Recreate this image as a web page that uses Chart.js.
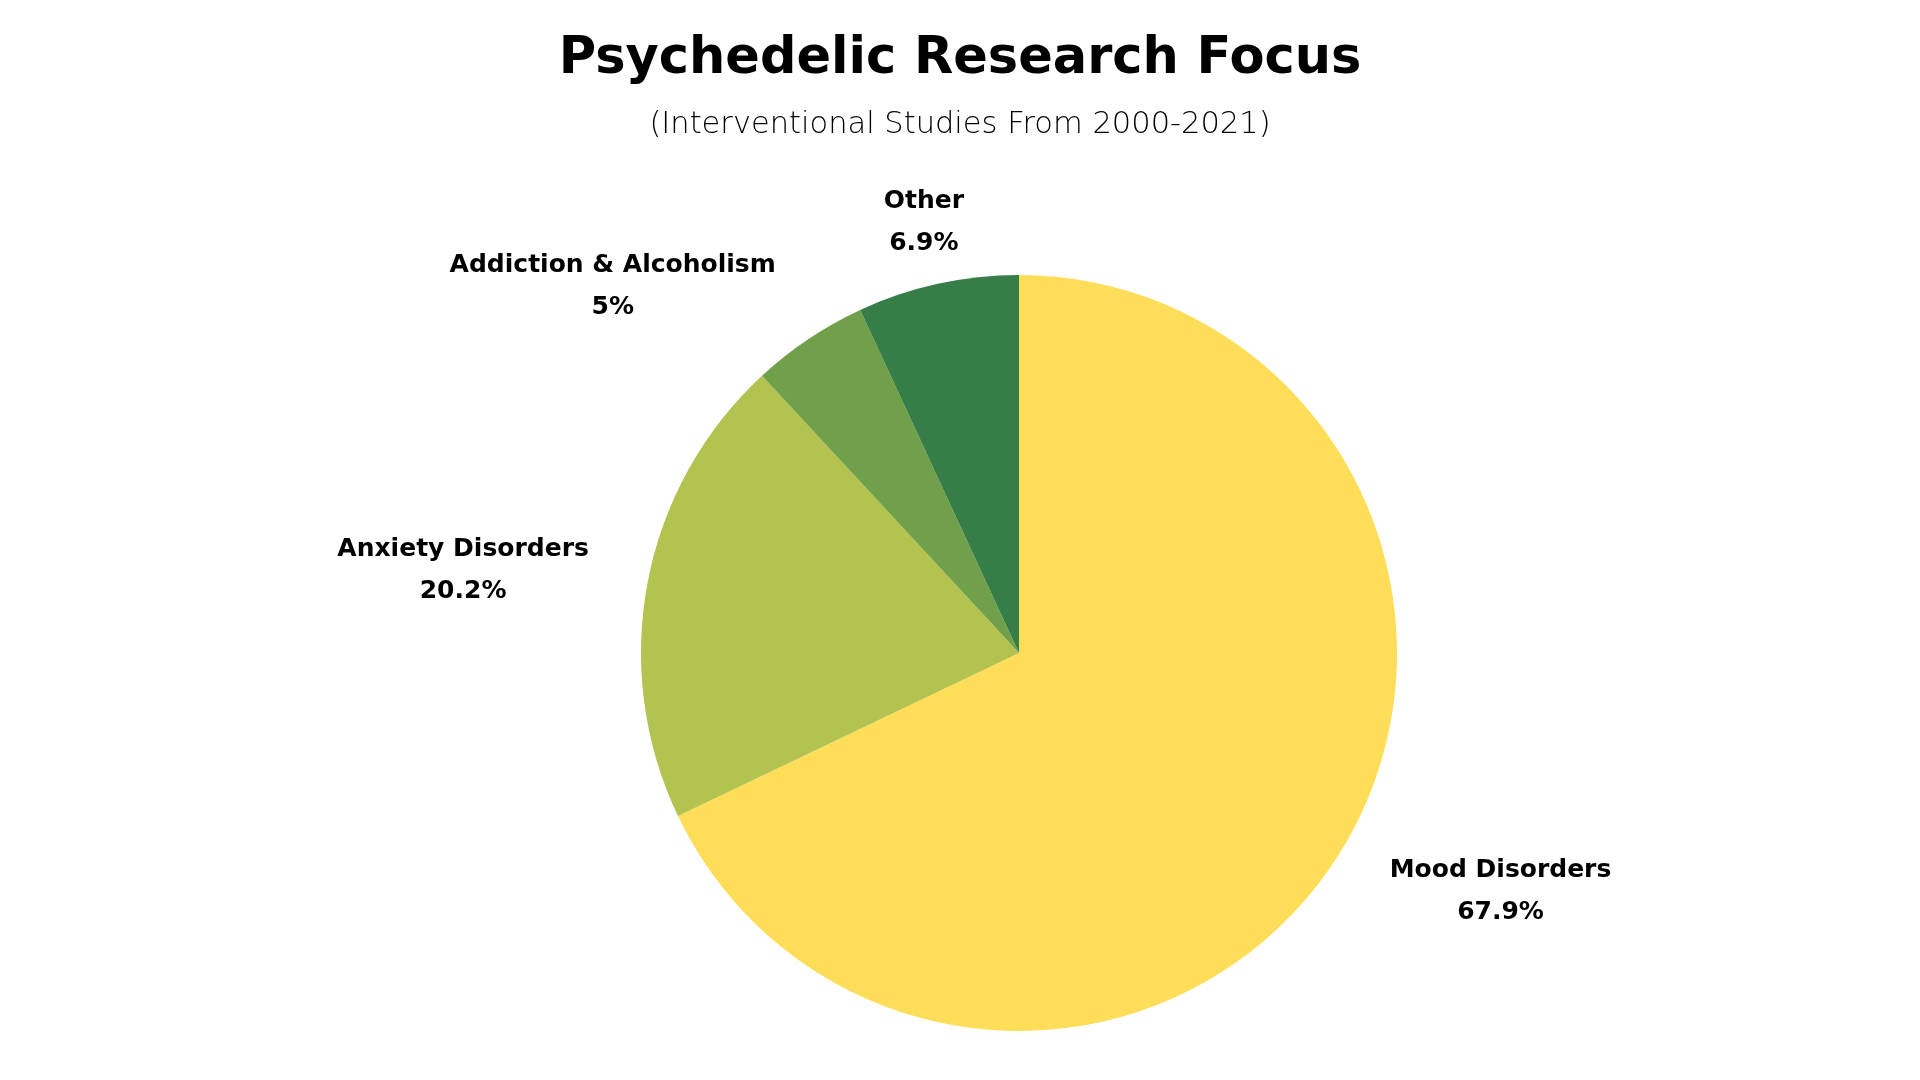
<!DOCTYPE html>
<html>
<head>
<meta charset="utf-8">
<script src="https://cdn.jsdelivr.net/npm/chart.js@4"></script>
<style>
  html, body { margin: 0; padding: 0; background: #fff; }
  #wrap { width: 1920px; height: 1080px; }
</style>
</head>
<body>
<div id="wrap"><canvas id="pie-chart"></canvas></div>
<script>
const categories = ['Mood Disorders', 'Anxiety Disorders', 'Addiction & Alcoholism', 'Other'];
const shares = [67.9, 20.2, 5, 6.9];
const shareLabels = ['67.9%', '20.2%', '5%', '6.9%'];
const titleText = 'Psychedelic Research Focus';
const subtitleText = '(Interventional Studies From 2000-2021)';

const colors = ['#FEDD59', '#B4C24F', '#70A14A', '#367D48'];

// label placement relative to each slice: radius factor and angle nudge (deg)
const labelRadius = [1.42, 1.487, 1.45, 1.17];
const labelNudge = [-6, -2.3, -14, 0];

const headings = {
    id: 'headings',
    afterDraw(chart) {
        const ctx = chart.ctx;
        const cx = chart.width / 2;
        ctx.save();
        ctx.fillStyle = '#000';
        ctx.textAlign = 'center';
        ctx.textBaseline = 'middle';
        ctx.font = 'bold 51px "DejaVu Sans"';
        ctx.fillText(titleText, cx, 60);
        ctx.font = '200 30.5px "DejaVu Sans"';
        ctx.fillText(subtitleText, cx, 125);
        ctx.restore();
    }
};

const sliceLabels = {
    id: 'sliceLabels',
    afterDatasetsDraw(chart) {
        const ctx = chart.ctx;
        const meta = chart.getDatasetMeta(0);
        ctx.save();
        ctx.fillStyle = '#000';
        ctx.textAlign = 'center';
        ctx.textBaseline = 'middle';
        ctx.font = 'bold 25px "DejaVu Sans"';
        meta.data.forEach((arc, i) => {
            const p = arc.getProps(['x', 'y', 'startAngle', 'endAngle', 'outerRadius'], true);
            const a = (p.startAngle + p.endAngle) / 2 + labelNudge[i] * Math.PI / 180;
            const r = p.outerRadius * labelRadius[i];
            const x = p.x + Math.cos(a) * r;
            const y = p.y + Math.sin(a) * r;
            ctx.fillText(categories[i], x, y - 20);
            ctx.fillText(shareLabels[i], x, y + 22);
        });
        ctx.restore();
    }
};

new Chart(document.getElementById('pie-chart'), {
    type: 'pie',
    data: {
        labels: categories,
        datasets: [{
            data: shares,
            backgroundColor: colors,
            borderWidth: 0
        }]
    },
    options: {
        responsive: true,
        maintainAspectRatio: false,
        animation: false,
        layout: {
            padding: {top: 275, bottom: 49, left: 118, right: 0}
        },
        plugins: {
            legend: {display: false},
            tooltip: {enabled: false},
            title: {display: false}
        }
    },
    plugins: [headings, sliceLabels]
});
</script>
</body>
</html>
